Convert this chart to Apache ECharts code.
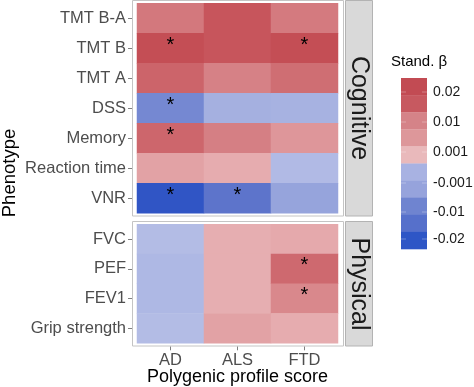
<!DOCTYPE html>
<html>
<head>
<meta charset="utf-8">
<script src="https://cdn.jsdelivr.net/npm/echarts@6/dist/echarts.min.js"></script>
<style>
html,body{margin:0;padding:0;background:#fff;}
#c{width:474px;height:387px;}
</style>
</head>
<body>
<div id="c"></div>
<script>
// ---- data ----
const columns = ['AD', 'ALS', 'FTD'];
const cogRows = ['TMT B-A', 'TMT B', 'TMT A', 'DSS', 'Memory', 'Reaction time', 'VNR'];
const physRows = ['FVC', 'PEF', 'FEV1', 'Grip strength'];

const cogAD  = [0.015, 0.0235, 0.019, -0.0125, 0.0185, 0.006, -0.024];
const cogALS = [0.022, 0.022, 0.013, -0.005, 0.0135, 0.004, -0.016];
const cogFTD = [0.0145, 0.0235, 0.017, -0.0045, 0.0085, -0.0025, -0.0075];
const cogSigAD  = [0, 1, 0, 1, 1, 0, 1];
const cogSigALS = [0, 0, 0, 0, 0, 0, 1];
const cogSigFTD = [0, 1, 0, 0, 0, 0, 0];

const physAD  = [-0.002, -0.003, -0.003, -0.002];
const physALS = [0.0035, 0.0035, 0.0035, 0.006];
const physFTD = [0.0045, 0.018, 0.0115, 0.004];
const physSigAD  = [0, 0, 0, 0];
const physSigALS = [0, 0, 0, 0];
const physSigFTD = [0, 1, 1, 0];

const legendLabels = ['0.02', '0.01', '0.001', '-0.001', '-0.01', '-0.02'];

// ---- build ----
function build(cols, sigs) {
  const out = [];
  cols.forEach((arr, ci) => arr.forEach((v, ri) => out.push([ci, ri, v, sigs[ci][ri]])));
  return out;
}
const cogData = build([cogAD, cogALS, cogFTD], [cogSigAD, cogSigALS, cogSigFTD]);
const physData = build([physAD, physALS, physFTD], [physSigAD, physSigALS, physSigFTD]);

function hex(c){return [parseInt(c.slice(1,3),16),parseInt(c.slice(3,5),16),parseInt(c.slice(5,7),16)];}
function lerp(a,b,t){const A=hex(a),B=hex(b);return 'rgb('+A.map((x,i)=>Math.round(x+(B[i]-x)*t)).join(',')+')';}
const posAnch = ['#ecbfc1','#e4a7aa','#db8f93','#d3787d','#ca5f65','#c2464e'];
const negAnch = ['#bcc4e9','#a5b0e0','#8798d8','#6378cc','#4763c7','#2a52c4'];
function colorFor(v){
  const anch = v > 0 ? posAnch : negAnch;
  let f = Math.min(Math.abs(v) / 0.005, 4.999);
  const i = Math.floor(f);
  return lerp(anch[i], anch[i+1], f - i);
}
const stops = [];
for (let k = 0; k <= 100; k++) {
  const v = -0.025 + k * 0.0005;
  stops.push(colorFor(k === 50 ? -1e-9 : v));
}

const legendColors = ['#c24b53','#c75960','#d58388','#dd979a','#e9b9bb','#a8b2e2','#96a3dc','#6f84d0','#5670cb','#2e56c6'];
const legendLabelY = [92, 122, 152, 183, 212, 239];

const FONT = 'Liberation Sans, Arial, sans-serif';
const chart = echarts.init(document.getElementById('c'), null, {renderer: 'canvas'});

const graphics = [];
// panel borders
graphics.push({type:'rect', shape:{x:132.5,y:0.5,width:211,height:215.5}, style:{fill:'none',stroke:'#c4c4c4',lineWidth:1}, z:10});
graphics.push({type:'rect', shape:{x:132.5,y:221.5,width:211,height:124.5}, style:{fill:'none',stroke:'#c4c4c4',lineWidth:1}, z:10});
// strips
graphics.push({type:'rect', shape:{x:345.5,y:0.5,width:27,height:215.5}, style:{fill:'#d9d9d9',stroke:'#b3b3b3',lineWidth:1}});
graphics.push({type:'rect', shape:{x:345.5,y:221.5,width:27,height:124.5}, style:{fill:'#d9d9d9',stroke:'#b3b3b3',lineWidth:1}});
graphics.push({type:'text', x:359, y:108, rotation:-Math.PI/2, style:{text:'Cognitive', font:'25px '+FONT, fill:'#1a1a1a', textAlign:'center', textVerticalAlign:'middle'}});
graphics.push({type:'text', x:359, y:284, rotation:-Math.PI/2, style:{text:'Physical', font:'25px '+FONT, fill:'#1a1a1a', textAlign:'center', textVerticalAlign:'middle'}});
// axis titles
graphics.push({type:'text', x:9.5, y:173, rotation:Math.PI/2, style:{text:'Phenotype', font:'18.5px '+FONT, fill:'#000', textAlign:'center', textVerticalAlign:'middle'}});
graphics.push({type:'text', x:237.5, y:377, style:{text:'Polygenic profile score', font:'18px '+FONT, fill:'#000', textAlign:'center', textVerticalAlign:'middle'}});
// legend
graphics.push({type:'text', x:391, y:62, style:{text:'Stand. β', font:'15px '+FONT, fill:'#000', textAlign:'left', textVerticalAlign:'middle'}});
const lTop = 78, lH = 17.1;
legendColors.forEach((c, i) => {
  graphics.push({type:'rect', shape:{x:401, y:lTop + i*lH, width:26, height:lH + 0.3}, style:{fill:c}});
});
legendLabels.forEach((t, i) => {
  graphics.push({type:'line', shape:{x1:422, y1:legendLabelY[i], x2:427, y2:legendLabelY[i]}, style:{stroke:'rgba(255,255,255,0.3)', lineWidth:1}});
  graphics.push({type:'line', shape:{x1:401, y1:legendLabelY[i], x2:406, y2:legendLabelY[i]}, style:{stroke:'rgba(255,255,255,0.3)', lineWidth:1}});
  graphics.push({type:'text', x:433, y:legendLabelY[i], style:{text:t, font:'14px '+FONT, fill:'#1a1a1a', textAlign:'left', textVerticalAlign:'middle'}});
});

const yAxisCommon = {
  type:'category', inverse:true, offset:5,
  axisLine:{show:false},
  axisTick:{show:true, length:4, alignWithLabel:true, lineStyle:{color:'#808080'}},
  axisLabel:{fontSize:16.5, color:'#4d4d4d', fontFamily:FONT, margin:6},
  splitLine:{show:false}
};
const labelCfg = {
  show:true, color:'#000', fontSize:20, fontFamily:FONT, offset:[0,-3],
  formatter: p => p.data[3] ? '*' : ''
};

chart.setOption({
  animation:false,
  backgroundColor:'#fff',
  grid:[
    {left:137, width:201, top:3.3, height:210},
    {left:137, width:201, top:224.3, height:119}
  ],
  xAxis:[
    {type:'category', gridIndex:0, data:columns, show:false},
    {type:'category', gridIndex:1, data:columns, offset:3,
     axisLine:{show:false},
     axisTick:{show:true, length:4, alignWithLabel:true, lineStyle:{color:'#808080'}},
     axisLabel:{fontSize:16.5, color:'#4d4d4d', fontFamily:FONT, margin:6}}
  ],
  yAxis:[
    Object.assign({gridIndex:0, data:cogRows}, yAxisCommon),
    Object.assign({gridIndex:1, data:physRows}, yAxisCommon)
  ],
  visualMap:{
    type:'continuous', show:false, min:-0.025, max:0.025, dimension:2,
    seriesIndex:[0,1], inRange:{color:stops}
  },
  series:[
    {type:'heatmap', xAxisIndex:0, yAxisIndex:0, data:cogData, label:labelCfg, itemStyle:{borderWidth:0}},
    {type:'heatmap', xAxisIndex:1, yAxisIndex:1, data:physData, label:labelCfg, itemStyle:{borderWidth:0}}
  ],
  graphic:graphics
});
</script>
</body>
</html>
